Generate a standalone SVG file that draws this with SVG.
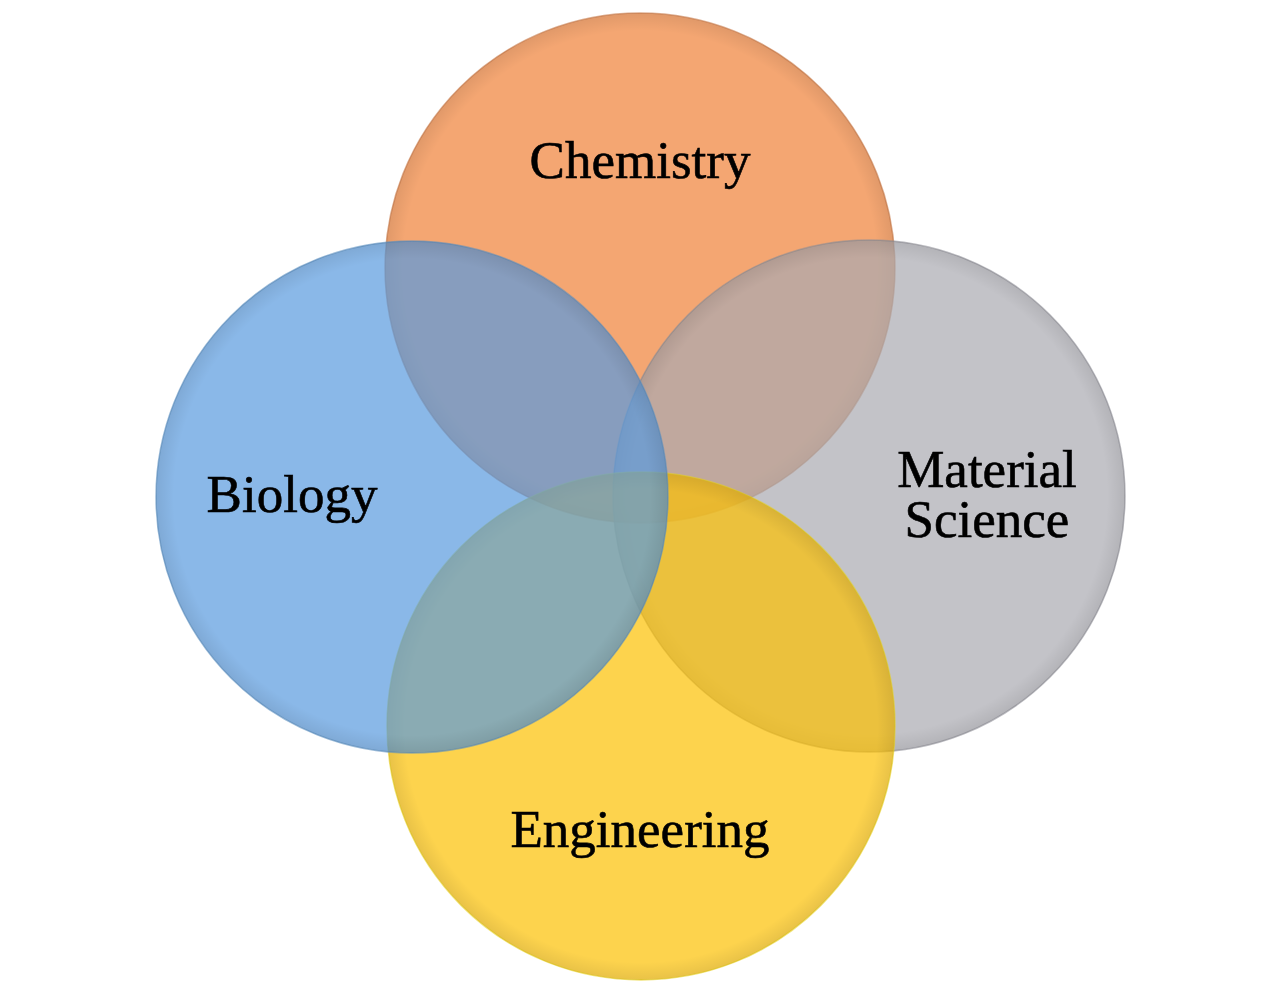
<svg xmlns="http://www.w3.org/2000/svg" width="1280" height="992" viewBox="0 0 1280 992">
  <defs>
    <radialGradient id="rim" cx="0.5" cy="0.5" r="0.5">
      <stop offset="0.93" stop-color="#000" stop-opacity="0"/>
      <stop offset="1" stop-color="#000" stop-opacity="0.08"/>
    </radialGradient>
  </defs>
  <style>
    .c { fill-opacity: 0.7; stroke-width: 1.5; stroke-opacity: 0.6; }
    .lbl { font-family: "Liberation Serif", "Times New Roman", serif; font-size: 53px; fill: #000; stroke: #000; stroke-width: 0.6; text-anchor: middle; }
  </style>
  <rect width="1280" height="992" fill="#fff"/>
  <g id="chemistry">
    <circle class="c" cx="640" cy="268" r="255" fill="#EF8036" stroke="#C87A4A"/>
    <circle cx="640" cy="268" r="255" fill="url(#rim)"/>
  </g>
  <g id="material-science">
    <circle class="c" cx="869" cy="496" r="256" fill="#A9A9B0" stroke="#8E8E96"/>
    <circle cx="869" cy="496" r="256" fill="url(#rim)"/>
  </g>
  <g id="engineering">
    <circle class="c" cx="641" cy="726" r="254" fill="#FCC002" stroke="#E8D020"/>
    <circle cx="641" cy="726" r="254" fill="url(#rim)"/>
  </g>
  <g id="biology">
    <circle class="c" cx="412" cy="497" r="256" fill="#599ADE" stroke="#5C8FC0"/>
    <circle cx="412" cy="497" r="256" fill="url(#rim)"/>
  </g>
  <g id="labels">
    <text class="lbl" x="640" y="178">Chemistry</text>
    <text class="lbl" x="292" y="512">Biology</text>
    <text class="lbl"><tspan x="987" y="487">Material</tspan><tspan x="987" y="537">Science</tspan></text>
    <text class="lbl" x="640" y="847">Engineering</text>
  </g>
  <g id="connectors"/>
</svg>
